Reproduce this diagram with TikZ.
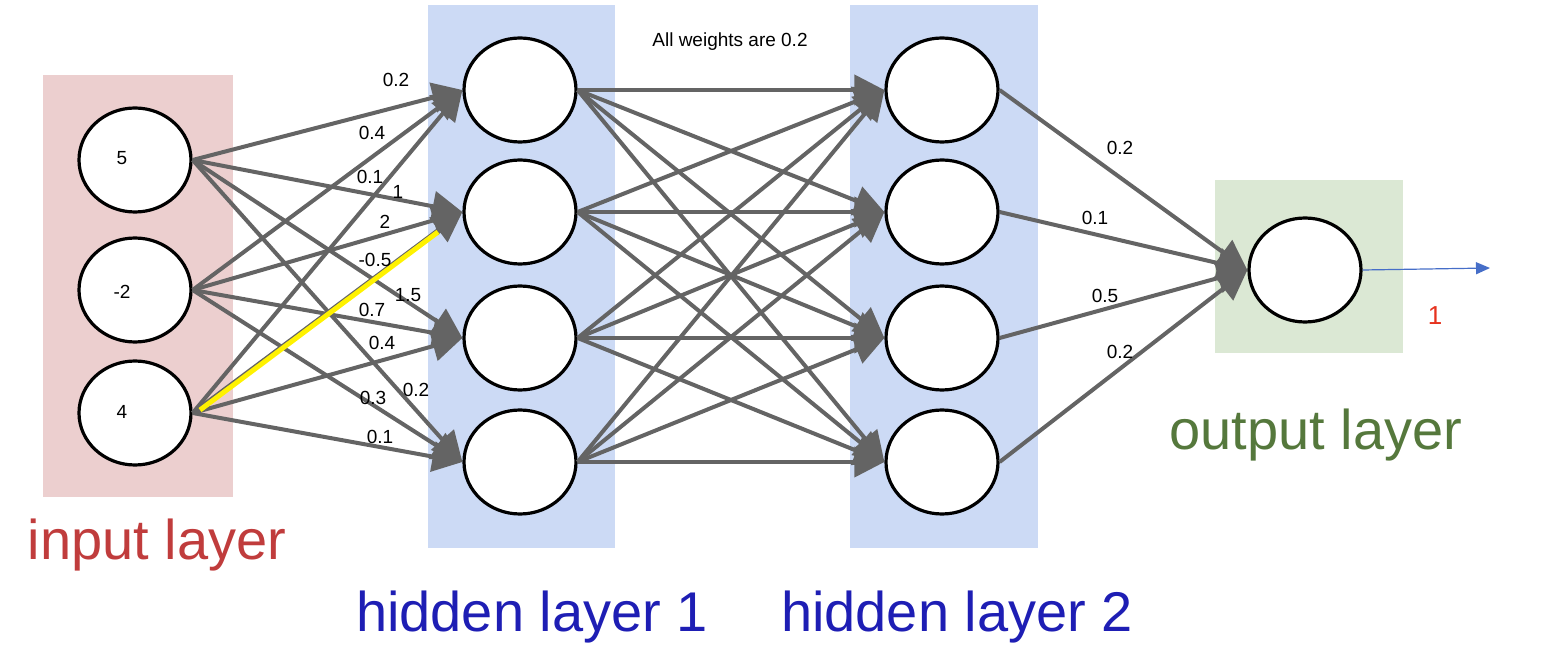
\documentclass[tikz,border=0pt]{standalone}
\usepackage{fontspec}
\setmainfont{Liberation Sans}
\usetikzlibrary{shapes.geometric,arrows.meta}
\definecolor{inred}{RGB}{236,207,207}
\definecolor{hidblue}{RGB}{204,218,245}
\definecolor{outgreen}{RGB}{219,232,212}
\definecolor{edgegray}{RGB}{100,100,100}
\definecolor{txtred}{RGB}{192,60,60}
\definecolor{txtblue}{RGB}{30,30,180}
\definecolor{txtgreen}{RGB}{85,120,60}
\begin{document}
\begin{tikzpicture}[x=0.5pt,y=-0.5pt,
  neuron/.style={ellipse,draw=black,line width=1.6pt,fill=white,minimum width=56pt,minimum height=52pt,inner sep=0pt},
  nl/.style={font=\fontsize{9.5}{10}\selectfont},
  edge/.style={draw=edgegray,line width=2pt,-{Triangle[length=15pt,width=15pt]}},
  wl/.style={font=\fontsize{9.5}{10}\selectfont},
  layer/.style={font=\fontsize{28}{32}\selectfont}]
\useasboundingbox (0,0) rectangle (1542,662);
\fill[inred] (43,75) rectangle (233,497);
\fill[hidblue] (428,5) rectangle (615,548);
\fill[hidblue] (850,5) rectangle (1038,548);
\fill[outgreen] (1215,180) rectangle (1403,353);
% nodes
\node[neuron] (i1) at (135,160) {};
\node[neuron] (i2) at (135,290) {};
\node[neuron] (i3) at (135,413) {};
\node[nl] (t1) at (122,158) {5};
\node[nl] (t2) at (122,292) {-2};
\node[nl] (t3) at (122,412) {4};
\foreach \k/\y in {1/90,2/212,3/338,4/462}{
  \node[neuron] (a\k) at (520,\y) {};
  \node[neuron] (b\k) at (942,\y) {};
}
\node[neuron] (o) at (1305,270) {};
% edges
\foreach \i in {1,2,3}{\foreach \j in {1,2,3,4}{\draw[edge] (i\i.east) -- (a\j.west);}}
\foreach \i in {1,2,3,4}{\foreach \j in {1,2,3,4}{\draw[edge] (a\i.east) -- (b\j.west);}}
\foreach \i in {1,2,3,4}{\draw[edge] (b\i.east) -- (o.west);}
\coordinate (ys) at (200,410);
\coordinate (ye) at (438,232);
\draw[yellow,line width=2.5pt] (ys) -- (ye);
% weights
\node[wl] at (396,80) {0.2};
\node[wl] at (372,133) {0.4};
\node[wl] at (370,177) {0.1};
\node[wl] at (398,192) {1};
\node[wl] at (385,222) {2};
\node[wl] at (375,260) {-0.5};
\node[wl] at (408,295) {1.5};
\node[wl] at (372,310) {0.7};
\node[wl] at (382,343) {0.4};
\node[wl] at (416,390) {0.2};
\node[wl] at (373,398) {0.3};
\node[wl] at (380,437) {0.1};
\node[wl] at (730,42) {All weights are 0.2};
\node[wl] at (1120,148) {0.2};
\node[wl] at (1095,218) {0.1};
\node[wl] at (1105,296) {0.5};
\node[wl] at (1120,352) {0.2};
% output
\coordinate (out) at (1490,268);
\draw[draw={rgb,255:red,70;green,110;blue,200},line width=0.6pt,-{Triangle[length=7pt,width=6pt]}] (o.east) -- (out);
\node[font=\fontsize{13}{15}\selectfont,text={rgb,255:red,230;green,50;blue,30}] at (1435,316) {1};
% layer labels
\node[layer,text=txtred] at (157,545) {input layer};
\node[layer,text=txtblue] at (532,617) {hidden layer 1};
\node[layer,text=txtblue] at (957,617) {hidden layer 2};
\node[layer,text=txtgreen] at (1316,435) {output layer};
\end{tikzpicture}
\end{document}
